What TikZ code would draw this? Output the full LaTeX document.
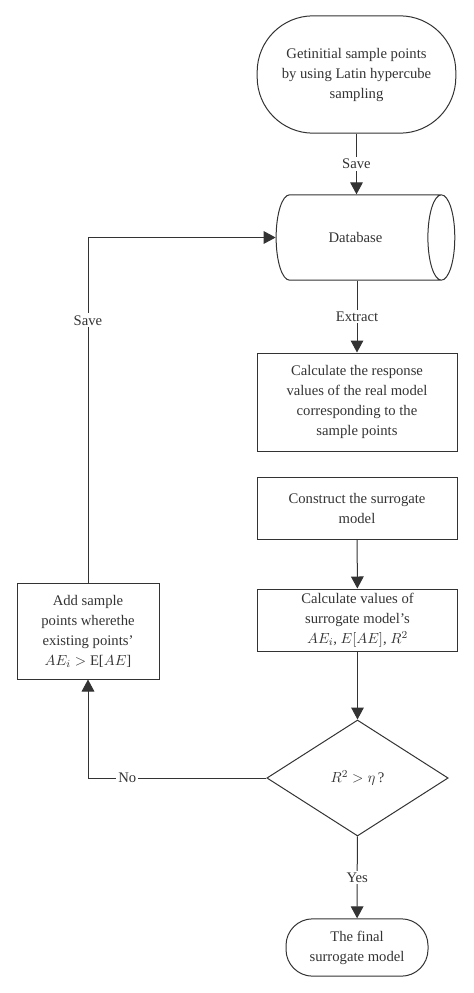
\documentclass[tikz,border=0pt]{standalone}
\usepackage{fontspec}
\setmainfont{Liberation Serif}
\usetikzlibrary{arrows.meta, shapes.geometric}

\begin{document}
\begin{tikzpicture}[x = 0.75pt, y = -0.75pt, line width = 0.75pt, color = black!80,
    every node/.style = {align = center, font = \fontsize{11}{15}\selectfont},
    process/.style = {rectangle, draw, inner sep = 2pt, minimum width = 150pt},
    terminal/.style = {rectangle, draw, inner sep = 2pt},
    storage/.style = {cylinder, draw, aspect = 1.4, minimum width = 64pt, minimum height = 134pt},
    decision/.style = {diamond, draw, inner sep = 0pt, minimum width = 136pt, minimum height = 87pt},
    flow/.style = {-{Triangle[length = 9pt, width = 9.5pt]}},
    tag/.style = {fill = white, inner sep = 1.5pt}]
    \useasboundingbox (0,0) rectangle (474,993);
    \node[terminal, rounded corners = 42pt, minimum width = 149pt, minimum height = 88pt] (init) at (356.5,74.5)
        {Getinitial sample points\\by using Latin hypercube\\sampling};
    \node[storage] (db) at (355.5,237.5) {Database};
    \node[process, minimum height = 73.5pt] (resp) at (357,402)
        {Calculate the response\\values of the real model\\corresponding to the\\sample points};
    \node[process, minimum height = 46.5pt] (surr) at (357,508) {Construct the surrogate\\model};
    \node[process, minimum height = 46.5pt] (calc) at (357.5,620)
        {Calculate values of\\surrogate model's\\$AE_i$, $E[AE]$, $R^2$};
    \node[process, minimum width = 106.5pt, minimum height = 72pt] (add) at (88,631)
        {Add sample\\points wherethe\\existing points'\\$AE_i >$ E[$AE$]};
    \node[decision] (test) at (357.5,778) {$R^2 > \eta$\,?};
    \node[terminal, rounded corners = 20pt, minimum width = 106.5pt, minimum height = 43pt] (final) at (357,947.5)
        {The final\\surrogate model};
    \draw[flow] (init) -- node[tag] {Save} (init.south |- db.north);
    \draw[flow] (resp.north |- db.south) -- node[tag] {Extract} (resp);
    \draw[flow] (surr) -- (calc);
    \draw[flow] (calc) -- (test);
    \draw[flow] (test) -- node[tag] {Yes} (final);
    \draw[flow] (test) -| node[tag, pos = 0.39] {No} (add);
    \draw[flow] (add) |- node[tag, pos = 0.38] {Save} (db.west);
\end{tikzpicture}
\end{document}
